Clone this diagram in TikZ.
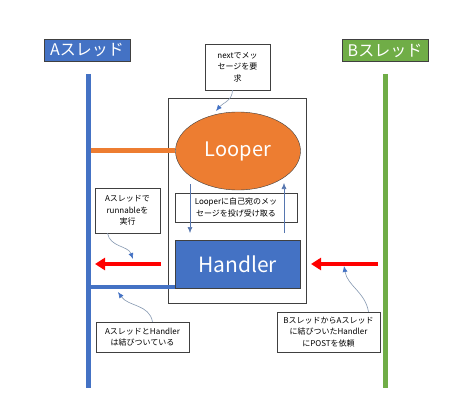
\documentclass[tikz,border=0pt]{standalone}
\usepackage{fontspec}
\setmainfont{Noto Sans CJK JP}
\usepackage{xcolor}
\usetikzlibrary{shapes.geometric,arrows.meta}
\definecolor{threadblue}{HTML}{4472C4}
\definecolor{threadgreen}{HTML}{70AD47}
\definecolor{looperorange}{HTML}{ED7D31}
\definecolor{postred}{HTML}{FF0000}
\definecolor{edgegray}{HTML}{404040}
\definecolor{calloutgray}{HTML}{8497B0}
\tikzstyle{threadlabel}=[draw=edgegray, thin, text=white, font=\fontsize{16}{18}\selectfont, minimum width=86, minimum height=22, inner sep=0]
\tikzstyle{note}=[draw=edgegray, thin, fill=white, align=center, font=\fontsize{8}{11.5}\selectfont, inner sep=0]
\tikzstyle{callout}=[draw=calloutgray, line width=0.6, -{Latex[length=6,width=5,color=threadblue]}]
\tikzstyle{redarrow}=[draw=postred, line width=4, -{Triangle[length=10,width=12]}]

\begin{document}
\begin{tikzpicture}[x=1pt,y=-1pt]
      \useasboundingbox (0,0) rectangle (474,417);
      % threads
      \node[threadlabel, fill=threadblue] (alabel) at (87,50) {Aスレッド};
      \node[threadlabel, fill=threadgreen] (blabel) at (385,50.5) {Bスレッド};
      \coordinate (atop) at (88,74);
      \coordinate (abot) at (88,388);
      \coordinate (btop) at (385,74);
      \coordinate (bbot) at (385,388);
      % looper frame
      \node[draw=edgegray, thin, minimum width=138, minimum height=205, inner sep=0] (frame) at (237,200.5) {};
      \node[ellipse, draw=edgegray, fill=looperorange, text=white, minimum width=125, minimum height=78, font=\fontsize{20}{22}\selectfont] (looper) at (238,151) {Looper};
      \node[draw=edgegray, fill=threadblue, text=white, minimum width=125, minimum height=48, inner sep=0, font=\fontsize{21}{23}\selectfont] (handler) at (237.5,264) {Handler};
      \node[note, minimum width=122, minimum height=29] (selfmsg) at (236,207.5) {Looperに自己宛のメッ\\セージを投げ受け取る};
      \node[note, minimum width=65, minimum height=46] (nextmsg) at (237.5,67) {nextでメッ\\セージを要\\求};
      \node[note, minimum width=65, minimum height=45] (runmsg) at (127.5,210.5) {Aスレッドで\\runnableを\\実行};
      \node[note, minimum width=93, minimum height=30] (tiemsg) at (142.5,337) {AスレッドとHandler\\は結びついている};
      \node[note, minimum width=103, minimum height=40] (postmsg) at (328.5,332) {BスレッドからAスレッド\\に結びついたHandler\\にPOSTを依頼};
      % links to thread A
      \coordinate (alooper) at (atop |- looper.west);
      \coordinate (ahandler) at (88,287);
      \coordinate (hhandler) at (handler.west |- ahandler);
      \draw[looperorange, line width=5] (alooper) -- (looper.west);
      \draw[threadblue, line width=4] (ahandler) -- (hhandler);
      \draw[threadblue, line width=5] (atop) -- (abot);
      \draw[threadgreen, line width=5] (btop) -- (bbot);
      % message loop
      \coordinate (downtop) at (190,184);
      \coordinate (downbot) at (190,233);
      \coordinate (uptop) at (284,183);
      \coordinate (upbot) at (284,233);
      \draw[threadblue!70!gray, line width=0.6, -{Latex[length=6,width=5]}] (downtop) -- (downbot);
      \draw[threadblue!70!gray, line width=0.6, -{Latex[length=6,width=5]}] (upbot) -- (uptop);
      % posting
      \coordinate (runfrom) at (161,264);
      \coordinate (runto) at (95,264);
      \coordinate (postfrom) at (378,264);
      \coordinate (postto) at (311,264);
      \draw[redarrow] (runfrom) -- (runto);
      \draw[redarrow] (postfrom) -- (postto);
      % callouts
      \coordinate (nexttip) at (216,111);
      \coordinate (runtip) at (133,259);
      \coordinate (tietip) at (118,292);
      \coordinate (posttip) at (344,266);
      \draw[callout] (nextmsg.south) ++(-5,0) coordinate (nextfrom) to[out=-90,in=50] (nexttip);
      \draw[callout] (runmsg.south) ++(-20,0) coordinate (runstart) to[out=-80,in=110] (runtip);
      \draw[callout] (tiemsg.north) ++(10,0) coordinate (tiestart) to[out=100,in=-55] (tietip);
      \draw[callout] (postmsg.north) ++(40,0) coordinate (poststart) to[out=100,in=-80] (posttip);
\end{tikzpicture}
\end{document}
